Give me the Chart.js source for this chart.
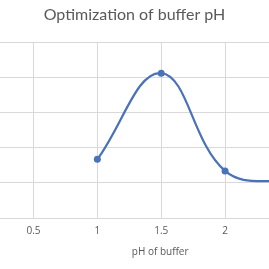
<!DOCTYPE html>
<html>
<head>
<meta charset="utf-8">
<script src="https://cdn.jsdelivr.net/npm/chart.js@4"></script>
<style>
  html, body { margin: 0; padding: 0; background: #fff; overflow: hidden; }
  #wrap { position: relative; width: 269px; height: 269px; }
</style>
</head>
<body>
<div id="wrap"><canvas id="myChart"></canvas></div>
<script>
// buffer pH vs response (y units not visible in the picture)
const phValues = [1, 1.5, 2, 2.5];
const responses = [1.67, 4.12, 1.34, 1.0];
const xTicks = [0.5, 1, 1.5, 2];

const GRID = '#d9d9d9';
const TEXT = '#595959';
const BLUE = '#4a72b8';

// x-axis title sits under 1.5 in the original, not at the middle of the crop
const axisTitle = {
  id: 'axisTitle',
  afterDraw(chart) {
    const { ctx, scales: { x } } = chart;
    ctx.save();
    ctx.font = '10px "Open Sans"';
    ctx.fillStyle = TEXT;
    ctx.textAlign = 'center';
    ctx.textBaseline = 'middle';
    ctx.fillText('pH of buffer', x.getPixelForValue(1.5) - 1, 252);
    ctx.restore();
  },
};

const ctx = document.getElementById('myChart').getContext('2d');
new Chart(ctx, {
  type: 'line',
  data: {
    datasets: [
      {
        data: phValues.map((v, i) => ({ x: v, y: responses[i] })),
        borderColor: BLUE,
        backgroundColor: BLUE,
        borderWidth: 2.25,
        pointRadius: 3.5,
        pointBorderWidth: 0,
        tension: 0.4,
        fill: false,
      },
    ],
  },
  options: {
    responsive: true,
    maintainAspectRatio: false,
    animation: false,
    layout: { autoPadding: false, padding: { left: 0, right: 0, top: 0, bottom: 25 } },
    plugins: {
      legend: { display: false },
      tooltip: { enabled: false },
      title: {
        display: true,
        text: 'Optimization of buffer pH',
        color: TEXT,
        font: { family: 'Lato', size: 16, weight: 'normal' },
        padding: { top: 5, bottom: 18 },
      },
    },
    scales: {
      x: {
        type: 'linear',
        min: 0.238,
        max: 2.344,
        afterBuildTicks: (scale) => {
          scale.ticks = xTicks.map((v) => ({ value: v }));
        },
        afterFit: (scale) => {
          // the picture is a crop, so the plot runs to both edges
          scale.paddingLeft = 0;
          scale.paddingRight = 0;
        },
        grid: { color: GRID, drawTicks: false },
        border: { color: GRID },
        ticks: {
          color: TEXT,
          font: { family: 'Open Sans', size: 10 },
          padding: 7,
          maxRotation: 0,
          callback: (v) => String(v),
        },
      },
      y: {
        min: 0,
        max: 5,
        afterFit: (scale) => {
          scale.width = 0;
        },
        grid: { color: GRID, drawTicks: false },
        border: { display: false },
        ticks: { display: false, stepSize: 1 },
      },
    },
  },
  plugins: [axisTitle],
});
</script>
</body>
</html>
